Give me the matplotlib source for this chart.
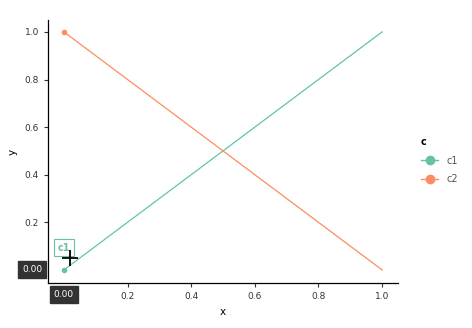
import matplotlib
matplotlib.use('Agg')
import matplotlib.pyplot as plt

x_c1 = [0.0, 1.0]
y_c1 = [0.0, 1.0]
x_c2 = [0.0, 1.0]
y_c2 = [1.0, 0.0]
series = ['c1', 'c2']
colors = {'c1': '#66c2a5', 'c2': '#fc8d62'}
xticks = [0.2, 0.4, 0.6, 0.8, 1.0]
yticks = [0.2, 0.4, 0.6, 0.8, 1.0]

plt.rcParams.update({'font.family': 'DejaVu Sans', 'font.size': 6.5})

fig = plt.figure(figsize=(4.72, 3.28), dpi=100)
ax = fig.add_axes([48 / 472, 45 / 328, 350 / 472, 263 / 328])

ax.plot(x_c1, y_c1, color=colors['c1'], lw=0.9)
ax.plot(x_c2, y_c2, color=colors['c2'], lw=0.9)
ax.plot(x_c1[0], y_c1[0], 'o', color=colors['c1'], ms=3)
ax.plot(x_c2[0], y_c2[0], 'o', color=colors['c2'], ms=3)

ax.set_xlim(-0.05, 1.05)
ax.set_ylim(-0.055, 1.05)
ax.set_xticks(xticks)
ax.set_yticks(yticks)
ax.set_xticklabels([f'{v:.1f}' for v in xticks])
ax.set_yticklabels([f'{v:.1f}' for v in yticks])
for s in ['top', 'right']:
    ax.spines[s].set_visible(False)
for s in ['left', 'bottom']:
    ax.spines[s].set_linewidth(0.9)
ax.tick_params(length=3, width=0.8, colors='#333333', labelcolor='#333333')
ax.set_xlabel('x', fontsize=7.5, labelpad=4)
ax.set_ylabel('y', fontsize=7.5, labelpad=5)

# hover tooltips
box = dict(boxstyle='square,pad=0.45', fc='#333333', ec='#333333')
ax.annotate('0.00', xy=(0, 0), xycoords='data', xytext=(-23, 0), textcoords='offset points',
            color='white', fontsize=6.5, ha='center', va='center', bbox=box, annotation_clip=False)
ax.annotate('0.00', xy=(0, -0.055), xycoords='data', xytext=(0, -8), textcoords='offset points',
            color='white', fontsize=6.5, ha='center', va='center', bbox=box, annotation_clip=False)
ax.annotate('c1', xy=(0, 0), xytext=(0, 16), textcoords='offset points', color=colors['c1'],
            fontsize=7, fontweight='bold', ha='center', va='center',
            bbox=dict(boxstyle='square,pad=0.35', fc='white', ec=colors['c1'], lw=0.8))
ax.plot(0.02, 0.05, marker='+', color='black', ms=12, mew=1.3, clip_on=False, zorder=10)

# legend
handles = [plt.Line2D([0], [0], color=colors[s], marker='o', ms=6, lw=1) for s in series]
leg = fig.legend(handles, series, loc='upper left', bbox_to_anchor=(412 / 472, 1 - 128 / 328),
                 frameon=False, title='c', fontsize=7, handlelength=1.8, labelspacing=0.9,
                 alignment='left')
leg.get_title().set_fontweight('bold')
leg.get_title().set_fontsize(7)
for t in leg.get_texts():
    t.set_color('#555555')

fig.savefig('out.png', dpi=100)
